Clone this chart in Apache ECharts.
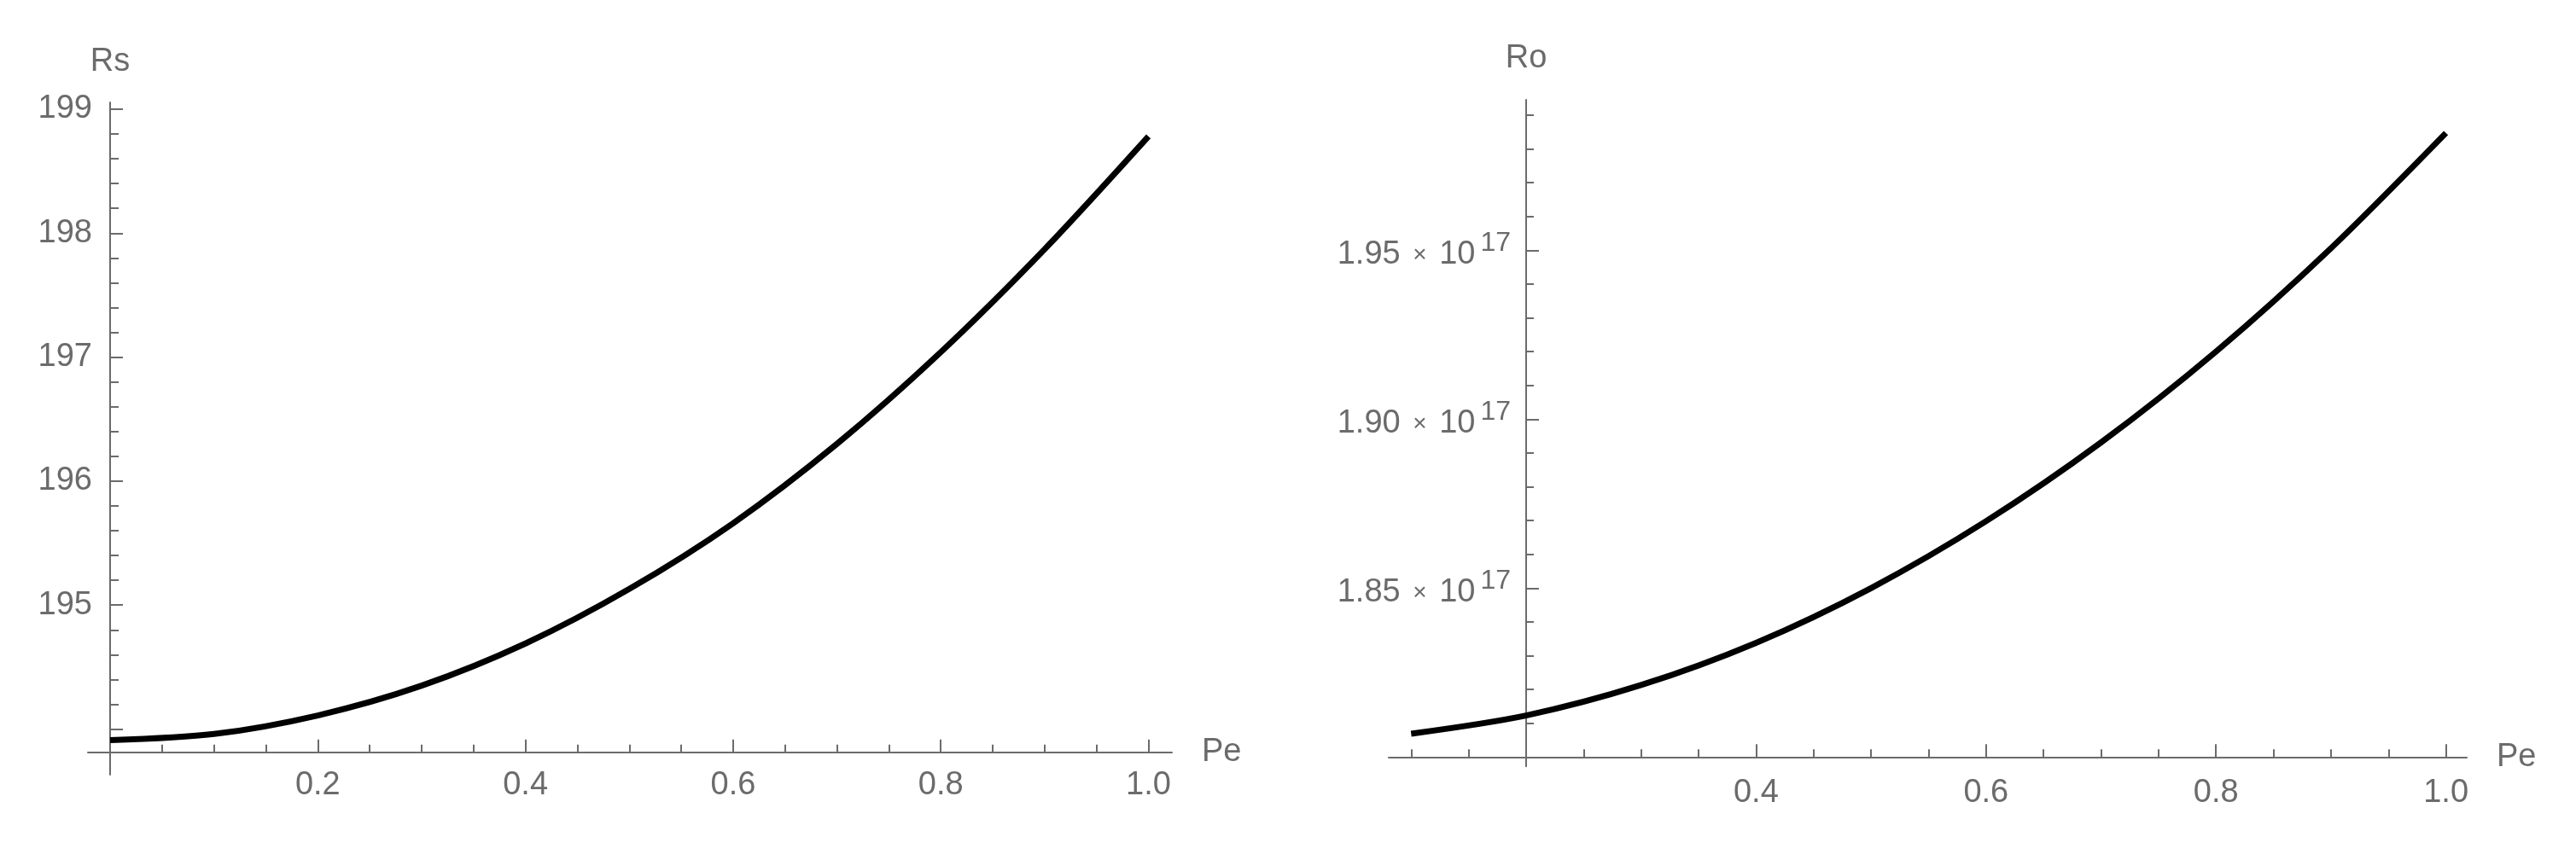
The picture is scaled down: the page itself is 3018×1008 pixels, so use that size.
<!DOCTYPE html>
<html>
<head>
<meta charset="utf-8">
<script src="https://cdn.jsdelivr.net/npm/echarts@6/dist/echarts.min.js"></script>
<style>
  html, body { margin: 0; padding: 0; background: #ffffff; }
  #chart { width: 3018px; height: 1008px; }
</style>
</head>
<body>
<div id="chart"></div>
<script>
// ---- Data ----
const peLeft   = [0.0, 0.1, 0.2, 0.3, 0.4, 0.5, 0.6, 0.7, 0.8, 0.9, 1.0];
const rsValues = [193.91, 193.96, 194.11, 194.35, 194.69, 195.13, 195.66, 196.30, 197.04, 197.87, 198.78];

const peRight  = [0.1, 0.2, 0.3, 0.4, 0.5, 0.6, 0.7, 0.8, 0.9, 1.0];
const roValues = [1.8069e17, 1.8123e17, 1.8213e17, 1.8338e17, 1.8500e17, 1.8698e17, 1.8931e17, 1.9200e17, 1.9506e17, 1.9847e17];

// ---- Tick values ----
const leftXMajor  = [0.2, 0.4, 0.6, 0.8, 1.0];
const leftXMinor  = [0.05, 0.1, 0.15, 0.25, 0.3, 0.35, 0.45, 0.5, 0.55, 0.65, 0.7, 0.75, 0.85, 0.9, 0.95];
const leftYMajor  = [194, 195, 196, 197, 198, 199];
const leftYLabels = [195, 196, 197, 198, 199];
const leftYMinor  = [194.2, 194.4, 194.6, 194.8, 195.2, 195.4, 195.6, 195.8, 196.2, 196.4, 196.6, 196.8,
                     197.2, 197.4, 197.6, 197.8, 198.2, 198.4, 198.6, 198.8];

const rightXMajor = [0.4, 0.6, 0.8, 1.0];
const rightXMinor = [0.1, 0.15, 0.25, 0.3, 0.35, 0.45, 0.5, 0.55, 0.65, 0.7, 0.75, 0.85, 0.9, 0.95];
const rightYMajor = [1.85e17, 1.90e17, 1.95e17];
const rightYMinor = [1.81e17, 1.82e17, 1.83e17, 1.84e17, 1.86e17, 1.87e17, 1.88e17, 1.89e17,
                     1.91e17, 1.92e17, 1.93e17, 1.94e17, 1.96e17, 1.97e17, 1.98e17, 1.99e17];

// ---- Style ----
const AX = '#6b6b6b';
const TXT = '#6b6b6b';
const FONT = '"Liberation Sans", Arial, sans-serif';
const FS = 38;

function majorAxis(extra) {
  return Object.assign({
    type: 'value',
    axisLine: { show: true, lineStyle: { color: AX, width: 2 } },
    splitLine: { show: false },
    minorTick: { show: false },
    minorSplitLine: { show: false }
  }, extra);
}
function minorAxis(extra) {
  return Object.assign({
    type: 'value',
    axisLine: { show: false },
    axisLabel: { show: false },
    splitLine: { show: false }
  }, extra);
}
function hiddenAxis(extra) {
  return Object.assign({ type: 'value', show: false, splitLine: { show: false } }, extra);
}

const leftXRange  = { min: -0.0214, max: 1.0226 };
const leftYRange  = { min: 193.632, max: 199.055 };
const leftXCross  = 193.813;     // y value where the Pe axis crosses
const rightXRange = { min: 0.0805, max: 1.0181 };
const rightYRange = { min: 1.79722e17, max: 1.99452e17 };
const rightYCross = 0.2;         // Pe value where the Ro axis crosses
const rightXCross = 1.80e17;     // Ro value where the Pe axis crosses

const option = {
  backgroundColor: '#ffffff',
  animation: false,
  grid: [
    { left: 103, top: 120, width: 1270, height: 788, outerBoundsMode: 'none', containLabel: false },
    { left: 1627, top: 117, width: 1263, height: 781.3, outerBoundsMode: 'none', containLabel: false }
  ],
  xAxis: [
    // 0: left main
    majorAxis({
      gridIndex: 0, position: 'bottom', min: leftXRange.min, max: leftXRange.max,
      axisLine: { show: true, onZero: true, onZeroAxisIndex: 2, lineStyle: { color: AX, width: 2 } },
      axisTick: { show: true, inside: true, length: 15, customValues: leftXMajor, lineStyle: { color: AX, width: 2 } },
      axisLabel: { show: true, customValues: leftXMajor, margin: -6, color: TXT, fontSize: FS, fontFamily: FONT,
                   formatter: v => Number(v).toFixed(1) },
      name: 'Pe', nameLocation: 'end', nameGap: 35,
      nameTextStyle: { color: TXT, fontSize: FS, fontFamily: FONT, verticalAlign: 'middle', align: 'left' }
    }),
    // 1: left minor ticks
    minorAxis({
      gridIndex: 0, position: 'bottom', min: leftXRange.min, max: leftXRange.max,
      axisLine: { show: false, onZero: true, onZeroAxisIndex: 2 },
      axisTick: { show: true, inside: true, length: 9, customValues: leftXMinor, lineStyle: { color: AX, width: 2 } }
    }),
    // 2: right main
    majorAxis({
      gridIndex: 1, position: 'bottom', min: rightXRange.min, max: rightXRange.max,
      axisLine: { show: true, onZero: true, onZeroAxisIndex: 5, lineStyle: { color: AX, width: 2 } },
      axisTick: { show: true, inside: true, length: 15, customValues: rightXMajor, lineStyle: { color: AX, width: 2 } },
      axisLabel: { show: true, customValues: rightXMajor, margin: 12, color: TXT, fontSize: FS, fontFamily: FONT,
                   formatter: v => Number(v).toFixed(1) },
      name: 'Pe', nameLocation: 'end', nameGap: 35,
      nameTextStyle: { color: TXT, fontSize: FS, fontFamily: FONT, verticalAlign: 'middle', align: 'left' }
    }),
    // 3: right minor ticks
    minorAxis({
      gridIndex: 1, position: 'bottom', min: rightXRange.min, max: rightXRange.max,
      axisLine: { show: false, onZero: true, onZeroAxisIndex: 5 },
      axisTick: { show: true, inside: true, length: 9, customValues: rightXMinor, lineStyle: { color: AX, width: 2 } }
    }),
    // 4: right hidden helper (zero = Pe 0.2) for placing the Ro axis
    hiddenAxis({ gridIndex: 1, position: 'top', min: rightXRange.min - rightYCross, max: rightXRange.max - rightYCross })
  ],
  yAxis: [
    // 0: left main
    majorAxis({
      gridIndex: 0, position: 'left', min: leftYRange.min, max: leftYRange.max,
      axisLine: { show: true, onZero: true, onZeroAxisIndex: 0, lineStyle: { color: AX, width: 2 } },
      axisTick: { show: true, inside: true, length: 15, customValues: leftYMajor, lineStyle: { color: AX, width: 2 } },
      axisLabel: { show: true, customValues: leftYLabels, margin: -5, color: TXT, fontSize: FS, fontFamily: FONT,
                   formatter: v => String(Math.round(v)) },
      name: 'Rs', nameLocation: 'end', nameGap: 28,
      nameTextStyle: { color: TXT, fontSize: FS, fontFamily: FONT }
    }),
    // 1: left minor
    minorAxis({
      gridIndex: 0, position: 'left', min: leftYRange.min, max: leftYRange.max,
      axisLine: { show: false, onZero: true, onZeroAxisIndex: 0 },
      axisTick: { show: true, inside: true, length: 10, customValues: leftYMinor, lineStyle: { color: AX, width: 2 } }
    }),
    // 2: left hidden helper (zero = Rs crossing)
    hiddenAxis({ gridIndex: 0, position: 'right', min: leftYRange.min - leftXCross, max: leftYRange.max - leftXCross }),
    // 3: right main
    majorAxis({
      gridIndex: 1, position: 'left', min: rightYRange.min, max: rightYRange.max,
      axisLine: { show: true, onZero: true, onZeroAxisIndex: 4, lineStyle: { color: AX, width: 2 } },
      axisTick: { show: true, inside: true, length: 15, customValues: rightYMajor, lineStyle: { color: AX, width: 2 } },
      axisLabel: {
        show: true, customValues: rightYMajor, margin: -143, color: TXT, fontSize: FS, fontFamily: FONT,
        formatter: v => '{m|' + (v / 1e17).toFixed(2) + '} {x|×} {m|10}{s|17}',
        rich: {
          m: { color: TXT, fontSize: FS, fontFamily: FONT, lineHeight: 48, verticalAlign: 'bottom' },
          x: { color: TXT, fontSize: 28, fontFamily: FONT, lineHeight: 48, verticalAlign: 'bottom', padding: [0, 4, 4, 4] },
          s: { color: TXT, fontSize: 32, fontFamily: FONT, lineHeight: 28, verticalAlign: 'top', padding: [0, 0, 0, 6] }
        }
      },
      name: 'Ro', nameLocation: 'end', nameGap: 29,
      nameTextStyle: { color: TXT, fontSize: FS, fontFamily: FONT }
    }),
    // 4: right minor
    minorAxis({
      gridIndex: 1, position: 'left', min: rightYRange.min, max: rightYRange.max,
      axisLine: { show: false, onZero: true, onZeroAxisIndex: 4 },
      axisTick: { show: true, inside: true, length: 9, customValues: rightYMinor, lineStyle: { color: AX, width: 2 } }
    }),
    // 5: right hidden helper (zero = Ro crossing)
    hiddenAxis({ gridIndex: 1, position: 'right', min: rightYRange.min - rightXCross, max: rightYRange.max - rightXCross })
  ],
  series: [
    {
      type: 'line', xAxisIndex: 0, yAxisIndex: 0,
      data: peLeft.map((p, i) => [p, rsValues[i]]),
      smooth: 0.3, showSymbol: false, symbol: 'none',
      lineStyle: { color: '#000000', width: 7 }
    },
    {
      type: 'line', xAxisIndex: 2, yAxisIndex: 3,
      data: peRight.map((p, i) => [p, roValues[i]]),
      smooth: 0.3, showSymbol: false, symbol: 'none',
      lineStyle: { color: '#000000', width: 7 }
    }
  ]
};

const chart = echarts.init(document.getElementById('chart'), null, { renderer: 'canvas', width: 3018, height: 1008 });
chart.setOption(option);
</script>
</body>
</html>
